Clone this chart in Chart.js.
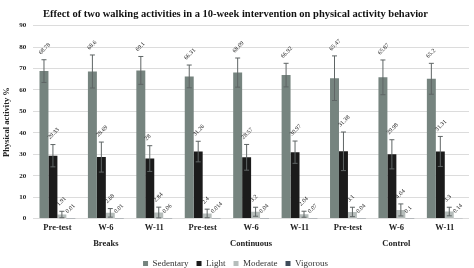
<!DOCTYPE html>
<html>
<head>
<meta charset="utf-8">
<script src="https://cdn.jsdelivr.net/npm/chart.js@4/dist/chart.umd.min.js"></script>
<style>
  html, body { margin: 0; padding: 0; background: #fff; }
  #wrap { width: 474px; height: 268px; }
</style>
</head>
<body>
<div id="wrap"><canvas id="activity-chart"></canvas></div>
<script>
// values
const phases = ['Pre-test', 'W-6', 'W-11', 'Pre-test', 'W-6', 'W-11', 'Pre-test', 'W-6', 'W-11'];
const groups = ['Breaks', 'Continuous', 'Control'];
const yTicks = [0, 10, 20, 30, 40, 50, 60, 70, 80, 90];

const sedentary = [68.78, 68.6, 69.1, 66.31, 68.09, 66.92, 65.47, 65.87, 65.2];
const sedentaryErr = [5.3, 7.7, 6.5, 5.3, 6.8, 5.5, 10.4, 8.1, 7.2];
const light = [29.33, 28.69, 28, 31.26, 28.57, 30.97, 31.38, 29.98, 31.31];
const lightErr = [5.2, 7, 6, 4.8, 6, 5.2, 9, 6.8, 7];
const moderate = [1.91, 2.68, 2.84, 2.4, 3.2, 2.04, 3.1, 4.04, 3.3];
const moderateErr = [1.5, 2, 2.5, 2, 2.1, 1.4, 2.2, 2.8, 2];
const vigorous = [0.01, 0.01, 0.06, 0.014, 0.04, 0.07, 0.04, 0.1, 0.14];
const vigorousErr = [0, 0, 0, 0, 0, 0, 0, 0, 0];

const serif = '"Liberation Serif", "DejaVu Serif", serif';

// error bars + rotated value labels
const errorBarPlugin = {
    id: 'errorBars',
    afterDatasetsDraw(chart) {
        const ctx = chart.ctx;
        const yScale = chart.scales.y;
        chart.data.datasets.forEach(function(ds, i) {
            const meta = chart.getDatasetMeta(i);
            meta.data.forEach(function(bar, j) {
                const v = ds.data[j];
                const e = ds.errors[j];
                const x = bar.x;
                const top = yScale.getPixelForValue(v + e);
                const bottom = yScale.getPixelForValue(v - e);
                if (e > 0) {
                    ctx.save();
                    ctx.strokeStyle = '#5f6565';
                    ctx.lineWidth = 1;
                    ctx.beginPath();
                    ctx.moveTo(x, top);
                    ctx.lineTo(x, bottom);
                    ctx.moveTo(x - 2.5, top);
                    ctx.lineTo(x + 2.5, top);
                    ctx.moveTo(x - 2.5, bottom);
                    ctx.lineTo(x + 2.5, bottom);
                    ctx.stroke();
                    ctx.restore();
                }
                ctx.save();
                ctx.translate(x - 2, top - 4);
                ctx.rotate(-Math.PI / 4);
                ctx.font = '6px ' + serif;
                ctx.fillStyle = '#222';
                ctx.textAlign = 'left';
                ctx.textBaseline = 'bottom';
                ctx.fillText(String(v), 0, 0);
                ctx.restore();
            });
        });
    }
};

new Chart(document.getElementById('activity-chart'), {
    type: 'bar',
    data: {
        labels: phases,
        datasets: [
            { label: 'Sedentary', data: sedentary, errors: sedentaryErr, backgroundColor: '#76847f' },
            { label: 'Light', data: light, errors: lightErr, backgroundColor: '#1b1b1b' },
            { label: 'Moderate', data: moderate, errors: moderateErr, backgroundColor: '#b6bdbb' },
            { label: 'Vigorous', data: vigorous, errors: vigorousErr, backgroundColor: '#3e4c5a' }
        ]
    },
    options: {
        responsive: true,
        maintainAspectRatio: false,
        animation: false,
        layout: { padding: { left: 2, right: 5, top: 4, bottom: -10 } },
        datasets: { bar: { categoryPercentage: 0.74, barPercentage: 1.0 } },
        scales: {
            x: {
                grid: { display: false, drawTicks: false, tickLength: 0 },
                border: { display: false },
                ticks: { color: '#222', padding: 4, maxRotation: 0, autoSkip: false, font: { family: serif, size: 8.5, weight: 'bold' } }
            },
            x2: {
                type: 'category',
                labels: groups,
                position: 'bottom',
                offset: true,
                grid: { display: false, drawTicks: false, tickLength: 0 },
                border: { display: false },
                ticks: { color: '#222', padding: 2, maxRotation: 0, font: { family: serif, size: 8.5, weight: 'bold' } }
            },
            y: {
                min: 0,
                max: 90,
                afterBuildTicks(axis) { axis.ticks = yTicks.map(function(v) { return { value: v }; }); },
                grid: { color: '#dcdcdc', drawTicks: false },
                border: { display: false },
                ticks: { color: '#222', padding: 7, font: { family: serif, size: 7, weight: 'bold' } },
                title: { display: true, text: 'Physical activity %', color: '#222', padding: 0, font: { family: serif, size: 8.5, weight: 'bold' } }
            }
        },
        plugins: {
            title: {
                display: true,
                text: 'Effect of two walking activities in a 10-week intervention on physical activity behavior',
                color: '#111',
                padding: { top: 4, bottom: 5 },
                font: { family: serif, size: 10.5, weight: 'bold' }
            },
            legend: {
                position: 'bottom',
                labels: { boxWidth: 5, boxHeight: 5, padding: 8, color: '#333', font: { family: serif, size: 9 } }
            },
            tooltip: { enabled: false }
        }
    },
    plugins: [errorBarPlugin]
});
</script>
</body>
</html>
